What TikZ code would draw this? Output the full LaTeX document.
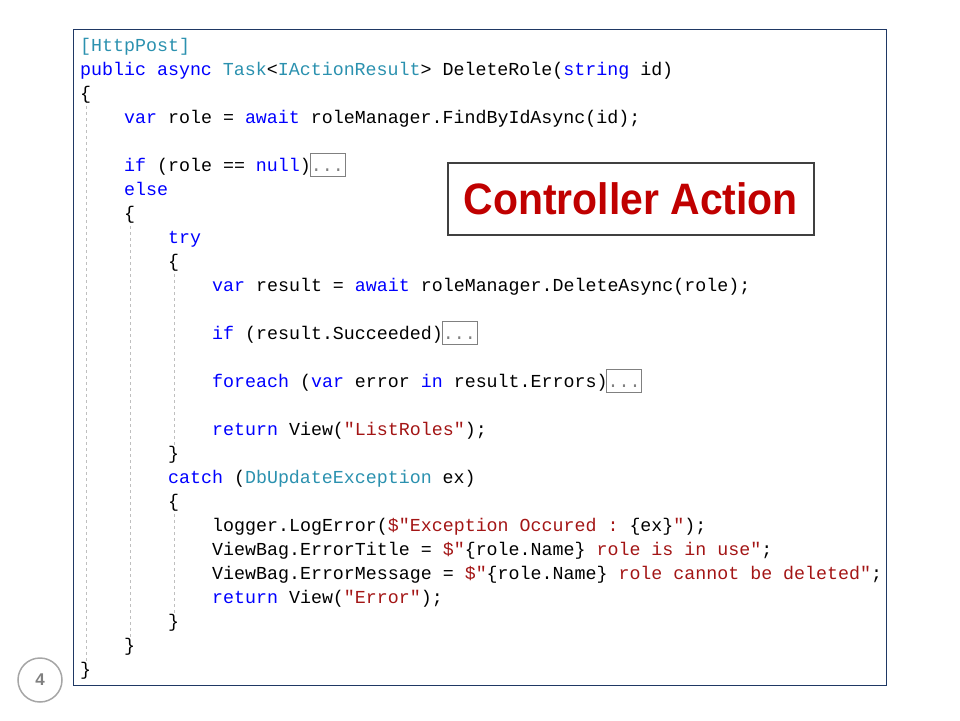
\documentclass[tikz,border=0pt]{standalone}
\usepackage{fontspec}
\usepackage{graphicx}
\setmonofont{Liberation Mono}
\setsansfont{Liberation Sans}
\definecolor{kw}{RGB}{0,0,255}
\definecolor{ty}{RGB}{43,145,175}
\definecolor{st}{RGB}{163,21,21}
\definecolor{frame}{RGB}{31,56,100}
\definecolor{red1}{RGB}{192,0,0}
\newcommand{\kw}[1]{\textcolor{kw}{#1}}
\newcommand{\ty}[1]{\textcolor{ty}{#1}}
\newcommand{\st}[1]{\textcolor{st}{#1}}
\newcommand{\fold}{\textcolor{gray}{...}}
\begin{document}
\begin{tikzpicture}[x=1pt,y=-1pt,
  code/.style={anchor=base west,inner sep=0pt,font=\ttfamily\fontsize{18.3}{20}\selectfont},
  guide/.style={draw=gray!50,dashed,line width=0.7pt},
  foldbox/.style={draw=gray,line width=0.9pt}]
\useasboundingbox (0,0) rectangle (960,720);
\node[draw=frame,line width=0.8pt,minimum width=813,minimum height=656,anchor=north west,inner sep=0] (frm) at (73,29) {};
\draw[guide] (86,100) -- (86,662);
\draw[guide] (130,220) -- (130,638);
\draw[guide] (174,268) -- (174,446);
\draw[guide] (174,508) -- (174,614);
\def\L#1#2#3{\node[code] (#1) at (#2) {#3};}
\L{l1}{80,51}{\ty{[HttpPost]}}
\L{l2}{80,75}{\kw{public} \kw{async} \ty{Task}<\ty{IActionResult}> DeleteRole(\kw{string} id)}
\L{l3}{80,99}{\{}
\L{l4}{124,123}{\kw{var} role = \kw{await} roleManager.FindByIdAsync(id);}
\L{l5}{124,171}{\kw{if} (role == \kw{null})\fold}
\L{l6}{124,195}{\kw{else}}
\L{l7}{124,219}{\{}
\L{l8}{168,243}{\kw{try}}
\L{l9}{168,267}{\{}
\L{l10}{212,291}{\kw{var} result = \kw{await} roleManager.DeleteAsync(role);}
\L{l11}{212,339}{\kw{if} (result.Succeeded)\fold}
\L{l12}{212,387}{\kw{foreach} (\kw{var} error \kw{in} result.Errors)\fold}
\L{l13}{212,435}{\kw{return} View(\st{"ListRoles"});}
\L{l14}{168,459}{\}}
\L{l15}{168,483}{\kw{catch} (\ty{DbUpdateException} ex)}
\L{l16}{168,507}{\{}
\L{l17}{212,531}{logger.LogError(\st{\$"Exception Occured : }\{ex\}\st{"});}
\L{l18}{212,555}{ViewBag.ErrorTitle = \st{\$"}\{role.Name\}\st{\ role is in use"};}
\L{l19}{212,579}{ViewBag.ErrorMessage = \st{\$"}\{role.Name\}\st{\ role cannot be deleted"};}
\L{l20}{212,603}{\kw{return} View(\st{"Error"});}
\L{l21}{168,627}{\}}
\L{l22}{124,651}{\}}
\L{l23}{80,675}{\}}
\foreach \n in {l5,l11,l12} {
  \draw[foldbox] (\n.base east) ++(-34,-18) rectangle ++(35,23);
}
\node[draw=black!75,line width=1.5pt,fill=white,minimum width=366,minimum height=72,anchor=north west,inner sep=0,
  font=\sffamily\bfseries\fontsize{44}{48}\selectfont,text=red1] (title) at (447,162) {\scalebox{0.93}[1]{Controller Action}};
\node[circle,draw=gray!70,line width=1.5pt,minimum size=44,inner sep=0,text=gray,font=\sffamily\bfseries\fontsize{17}{20}\selectfont] (pg) at (40,680) {4};
\end{tikzpicture}
\end{document}
